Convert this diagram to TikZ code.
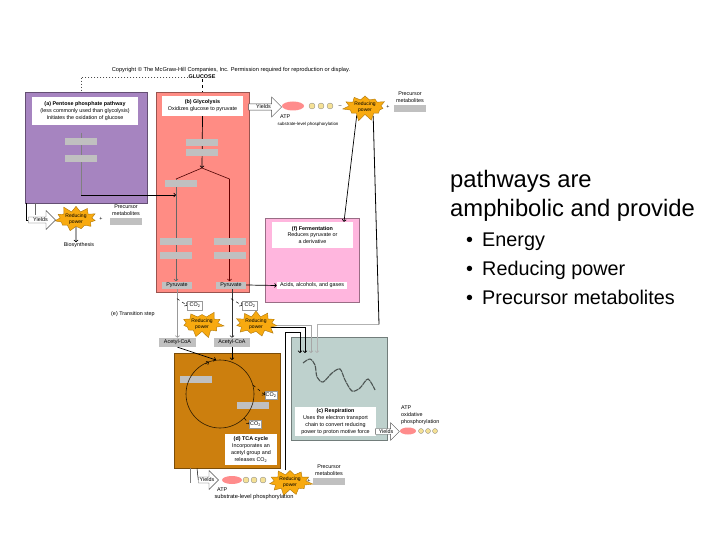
\documentclass[tikz,border=0pt]{standalone}
\usepackage{fontspec}
\setmainfont{Liberation Sans}
\usetikzlibrary{shapes.symbols,shapes.arrows,shapes.geometric,calc,arrows.meta}
\pgfdeclarelayer{bg}
\pgfdeclarelayer{lines}
\pgfsetlayers{bg,lines,main}
\definecolor{ppurple}{RGB}{166,132,192}
\definecolor{psalmon}{RGB}{255,140,132}
\definecolor{ppink}{RGB}{255,182,222}
\definecolor{porange}{RGB}{204,127,14}
\definecolor{pteal}{RGB}{190,209,205}
\definecolor{pgray}{RGB}{192,192,192}
\definecolor{pgold}{RGB}{248,170,16}
\definecolor{pbead}{RGB}{245,225,150}
\tikzset{
>={To[length=2.5pt,width=4.5pt]},
small/.style={font=\fontsize{5.4}{6.8}\selectfont,inner sep=0pt,align=center},
panel/.style={draw=#1!60!black,line width=.7pt,inner sep=0pt},
white box/.style={small,fill=white},
blank/.style={fill=pgray,inner sep=0pt,minimum width=32pt,minimum height=7pt},
tag/.style={small,fill=pgray,minimum height=7pt},
burst/.style={small,starburst,starburst points=11,starburst point height=7pt,random starburst=#1,draw=pgold!70!black,fill=pgold,line width=.4pt,minimum width=46pt,minimum height=28pt,font=\fontsize{5}{5.8}\selectfont},
yield/.style={small,single arrow,draw=black!70,fill=white,line width=.4pt,single arrow head extend=6pt,inner xsep=1pt,inner ysep=.6pt},
atp/.style={ellipse,fill=red!45,inner sep=0pt},
bead/.style={circle,draw=black!50,fill=pbead,line width=.3pt,inner sep=0pt,minimum size=6pt},
link/.style={line width=.7pt,->},
big/.style={font=\fontsize{23.8}{29}\selectfont,inner sep=0pt,anchor=west,align=left},
item/.style={font=\fontsize{19.8}{29}\selectfont,inner sep=0pt,anchor=base west}
}
\begin{document}
\begin{tikzpicture}[x=1pt,y=-1pt]
\useasboundingbox (0,0) rectangle (720,540);
\begin{pgfonlayer}{bg}
\node[panel=ppurple,fill=ppurple,minimum width=122pt,minimum height=111pt] (ppp) at (86,147.5) {};
\node[panel=psalmon,fill=psalmon,minimum width=93pt,minimum height=200pt] (gly) at (202.5,192) {};
\node[panel=ppink,fill=ppink,minimum width=94pt,minimum height=84pt] (fer) at (312,260) {};
\node[panel=pteal,fill=pteal,minimum width=96pt,minimum height=103pt] (res) at (339,388.5) {};
\node[panel=porange,fill=porange,minimum width=106pt,minimum height=115pt] (tca) at (227,410.5) {};
\end{pgfonlayer}

\node[small,font=\fontsize{5.7}{6.8}\selectfont] (copy) at (231,70) {Copyright \textcopyright\ The McGraw-Hill Companies, Inc. Permission required for reproduction or display.};
\node[small,font=\fontsize{5.4}{6.8}\bfseries\selectfont] (glc) at (202,77) {GLUCOSE};

\node[white box,minimum width=106pt,minimum height=28pt] (ppplab) at (85,111) {\textbf{(a) Pentose phosphate pathway}\\(less commonly used than glycolysis)\\Initiates the oxidation of glucose};
\node[white box,minimum width=81pt,minimum height=20pt] (glylab) at (202.5,106) {\textbf{(b) Glycolysis}\\Oxidizes glucose to pyruvate};
\node[white box,minimum width=81pt,minimum height=26pt] (ferlab) at (312.5,235) {\textbf{(f) Fermentation}\\Reduces pyruvate or\\a derivative};
\node[white box,minimum width=70pt,minimum height=7pt] (acids) at (312,285.5) {Acids, alcohols, and gases};
\node[white box,minimum width=81pt,minimum height=29pt,font=\fontsize{5.4}{6.9}\selectfont] (reslab) at (335.5,421.5) {\textbf{(c) Respiration}\\Uses the electron transport\\chain to convert reducing\\power to proton motive force};
\node[white box,minimum width=52pt,minimum height=31pt] (tcalab) at (251,449.5) {\textbf{(d) TCA cycle}\\Incorporates an\\acetyl group and\\releases CO\textsubscript{2}};

\foreach \n/\x/\y in {a1/81/141.5,a2/81/158.5,b1/201.5/142.5,b2/201.5/152.5,b3/180.5/183.5,b4/176/241.5,b5/176/255.5,b6/229.5/241.5,b7/229.5/255.5,c1/196/379.5,c2/252.5/405.5}
\node[blank] (\n) at (\x,\y) {};

\node[tag,minimum width=30pt] (pyrl) at (177,285) {Pyruvate};
\node[tag,minimum width=30pt] (pyrr) at (231,285) {Pyruvate};
\node[tag,minimum width=37pt,minimum height=9pt] (acl) at (177.5,342.5) {Acetyl-CoA};
\node[tag,minimum width=36pt,minimum height=9pt] (acr) at (232,342.5) {Acetyl-CoA};
\node[small,anchor=west] (trans) at (111,314) {(e) Transition step};

\node[white box,draw=black!40,line width=.3pt,minimum width=15pt,minimum height=9pt] (col) at (195,305.5) {CO\textsubscript{2}};
\node[white box,draw=black!40,line width=.3pt,minimum width=15pt,minimum height=9pt] (cor) at (250,305.5) {CO\textsubscript{2}};
\node[white box,draw=black!40,line width=.3pt,minimum width=12pt,minimum height=8pt] (coa) at (271,395) {CO\textsubscript{2}};
\node[white box,draw=black!40,line width=.3pt,minimum width=12pt,minimum height=8pt] (cob) at (255.5,424) {CO\textsubscript{2}};

\node[burst=11] (rpg) at (76,219) {Reducing\\power};
\node[burst=12] (rgl) at (365,107) {Reducing\\power};
\node[burst=13] (rtl) at (202,324) {Reducing\\power};
\node[burst=14] (rtr) at (256,324) {Reducing\\power};
\node[burst=15] (rtc) at (290,482) {Reducing\\power};

\node[yield,minimum height=27pt,minimum width=19pt] (ypp) at (40.5,220) {Yields};
\node[yield,minimum height=33pt,minimum width=20pt] (ygl) at (263.5,107) {Yields};
\node[yield,minimum height=24pt,minimum width=17pt] (yre) at (386,431.5) {Yields};
\node[yield,minimum height=20pt,minimum width=19pt] (ytc) at (207,480) {Yields};

\node[small] (plus1) at (101,219) {+};
\node[small] (plus2) at (388,107) {+};
\node[small] (plus3) at (309,481) {+};
\node[small] (minus) at (340,107) {--};
\node[small] (bio) at (79,245) {Biosynthesis};

\node[blank,minimum height=7pt] (mpp) at (126,221.5) {};
\node[blank,minimum height=7pt] (mgl) at (410,108.5) {};
\node[blank,minimum height=7pt] (mtc) at (329,481.5) {};
\node[small] (mpptx) at (126,210.5) {Precursor\\metabolites};
\node[small] (mgltx) at (410,97.5) {Precursor\\metabolites};
\node[small] (mtctx) at (329,470.5) {Precursor\\metabolites};

\node[atp,minimum width=22pt,minimum height=9pt] (atpa) at (293,106) {};
\node[atp,minimum width=20pt,minimum height=8pt] (atpb) at (232,480) {};
\node[atp,minimum width=16pt,minimum height=7pt] (atpc) at (408,431) {};
\foreach \x [count=\i] in {312,321,330}\node[bead] (ba\i) at (\x,106) {};
\foreach \x [count=\i] in {246,254,263}\node[bead] (bb\i) at (\x,480) {};
\foreach \x [count=\i] in {421,428,435}\node[bead,minimum size=5pt] (bc\i) at (\x,431) {};

\node[small,anchor=west] (atptxa) at (280,117) {ATP};
\node[small,font=\fontsize{4.4}{5}\selectfont] (slpa) at (308,124) {substrate-level phosphorylation};
\node[small,anchor=west] (atptxb) at (217,490) {ATP};
\node[small,font=\fontsize{5.7}{6}\selectfont] (slpb) at (254,497) {substrate-level phosphorylation};
\node[small,anchor=north west,align=left] (oxi) at (401,406) {ATP\\oxidative\\phosphorylation};

\node[circle,draw=black!80!porange,line width=.6pt,minimum size=68pt,inner sep=0pt] (cyc) at (220,394) {};
\draw[line width=1.1pt,dash pattern=on 5pt off .7pt,draw=black!60!pteal] plot[smooth] coordinates {(303,363) (310,359) (315,365) (317,377) (323,382) (332,373) (340,369) (345,380) (352,391) (360,388) (368,379) (375,390)};

\node[big] (head) at (450,196) {pathways are\\amphibolic and provide};
\foreach \t/\y [count=\i] in {Energy/246,Reducing power/275,Precursor metabolites/304}{
\node[item] (bul\i) at (466,\y) {•};
\node[item] (itm\i) at (482,\y) {\t};
}

\begin{pgfonlayer}{lines}
\coordinate (pppend) at (81,133);
\coordinate (pppbend) at (81,195);
\coordinate (glytop) at (202,92);
\coordinate (apex) at (202,168);
\coordinate (kneel) at (176,179);
\coordinate (kneer) at (229.5,179);
\coordinate (mergel) at (176,195);
\coordinate (acrin) at (232,360);
\coordinate (acin) at (216,360);
\draw[dash pattern=on 1.5pt off 1.5pt,line width=.5pt,black!70] (glc.west) -| (ppp.north -| pppend);
\draw[dashed,line width=.9pt] (glc.south) -- (glytop);
\draw[link] (glylab.south) -- (apex);
\draw[line width=.6pt,black!70!red] (kneel) -- (apex) -- (kneer);
\draw[line width=.7pt,black!50] (pppend) -- (pppbend);
\draw[link] (pppbend) -- (mergel);
\draw[link,black!60] (kneel) -- (pyrl.north -| kneel);
\draw[link,black!60!red] (kneer) -- (pyrr.north -| kneer);
\draw[link] (pyrr.east) -- (acids.west);
\draw[link] (rgl.south west) -- (ferlab.north -| 344,0);
\draw[line width=.5pt] (ppp.south west) ++(2,0) coordinate (ya) |- (ypp.west);
\draw[line width=.5pt,black!60] (ppp.south -| 35,0) -- (35,215);
\draw[link] (rpg.south) -- (bio.north -| rpg);
\draw[link,black!40] (pyrl.south -| acl) -- (acl.north);
\draw[link,black!80] (pyrr.south -| acr) -- (acr.north);
\draw[dashed,link,line width=.5pt] ($(pyrl.south)+(0,10)$) -- (col.west);
\draw[dashed,link,line width=.5pt] ($(pyrr.south)+(0,10)$) -- (cor.west);
\draw[link] (acl.south) -- (acin);
\draw[link] (acr.south) -- (acrin);
\draw[link,line width=.5pt] (205,364) -- (209,362);
\draw[dashed,link,line width=.5pt] (cyc.15) -- (coa.west);
\draw[dashed,link,line width=.5pt] (cyc.-45) -- (cob.west);
\coordinate (ra) at (300,353);
\coordinate (rb) at (305,353);
\coordinate (rc) at (311,353);
\coordinate (rd) at (317,353);
\coordinate (framea) at (285,332);
\coordinate (rbs) at (268,327.5);
\coordinate (rcs) at (268,325.5);
\coordinate (rds) at (379,324.3);
\draw[link] (rtc.north -| framea) -- (framea) -| (ra);
\draw[link] (rbs) -| (rb);
\draw[link,black!35] (rcs) -| (rc);
\draw[link,black!30] (rds) -| (rd);
\draw[line width=.8pt] (rgl.south east |- 0,116) -- (rds);
\draw[line width=.7pt,black!50] (tca.south -| 190,0) -- (190,483);
\draw[line width=.5pt] (tca.south -| 197,0) -- (ytc.west);
\end{pgfonlayer}
\end{tikzpicture}
\end{document}
